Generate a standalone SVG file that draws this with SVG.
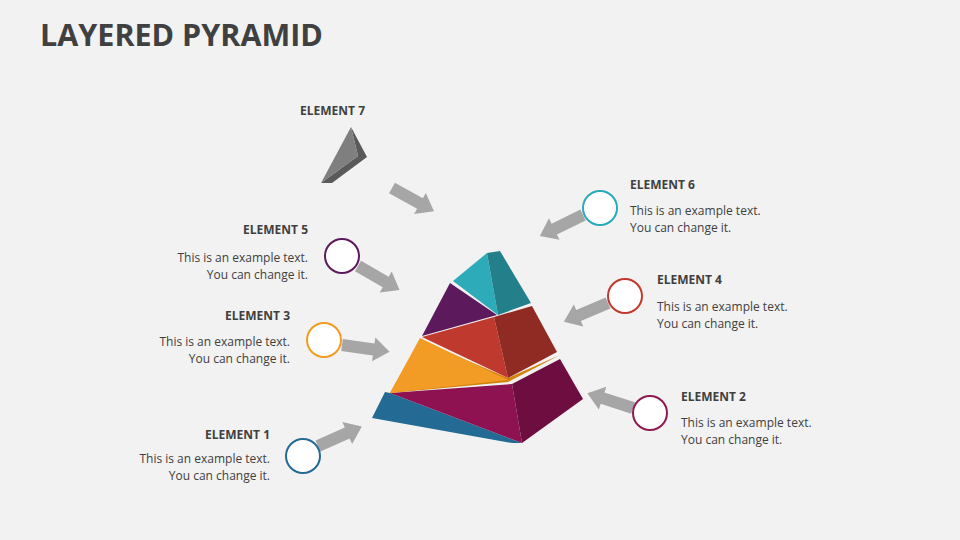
<svg xmlns="http://www.w3.org/2000/svg" width="960" height="540" viewBox="0 0 960 540">
<style>
text{font-family:"Open Sans","Liberation Sans",sans-serif;fill:#404040}
.t{font-size:30.5px;font-weight:bold}
.h{font-size:12px;font-weight:bold}
.b{font-size:12px}
.e{text-anchor:end}
.c{fill:#fff;stroke-width:2}
.a{fill:#a6a6a6}
</style>
<defs><polygon id="ar" points="0,-6 32,-6 32,-12 48,0 32,12 32,6 0,6"/></defs>
<rect width="960" height="540" fill="#f2f2f2"/>
<text class="t" x="40" y="46">LAYERED PYRAMID</text>
<g id="connectors" class="a">
<use href="#ar" transform="translate(392,188) rotate(29)"/>
<use href="#ar" transform="translate(583,215) rotate(154)"/>
<use href="#ar" transform="translate(358,266) rotate(30)"/>
<use href="#ar" transform="translate(608,303) rotate(157)"/>
<use href="#ar" transform="translate(342,345) rotate(8)"/>
<use href="#ar" transform="translate(633,408) rotate(198)"/>
<use href="#ar" transform="translate(318,446) rotate(-24)"/>
</g>
<g id="pyramid">
<polygon points="385,392 372,418 512,443 522,443 390,393" fill="#236a94"/>
<polygon points="390,393 512,384 522,443" fill="#8e1252"/>
<polygon points="512,384 560,359 583,399 522,443" fill="#6e0e40"/>
<polygon points="420,340 390,393 508,382 560,355 508,378" fill="#d4820a"/>
<polygon points="420,338 390,393 508,380" fill="#f39c25"/>
<polygon points="422,337 494,317 508,378" fill="#c0392e"/>
<polygon points="494,317 532,306 557,352 508,378" fill="#8f2b22"/>
<polygon points="450,283 422,336 497,315" fill="#5c1a5c"/>
<polygon points="487,253 453,281 498,315" fill="#2eabb8"/>
<polygon points="487,253 500,251 531,303 498,315" fill="#23808a"/>
</g>
<g id="element7">
<text class="h e" x="365" y="115">ELEMENT 7</text>
<polygon points="351,127 367,157 332,183 321,183 358,156" fill="#5a5a5a"/>
<polygon points="351,127 358,156 321,183" fill="#7f7f7f"/>
</g>
<g id="element6">
<circle class="c" cx="600" cy="208" r="17" stroke="#2aa9b8"/>
<text class="h" x="630" y="189">ELEMENT 6</text>
<text class="b" x="630" y="215">This is an example text.</text>
<text class="b" x="630" y="232">You can change it.</text>
</g>
<g id="element5">
<circle class="c" cx="342" cy="256" r="17" stroke="#5c1a5c"/>
<text class="h e" x="308" y="234">ELEMENT 5</text>
<text class="b e" x="308" y="262">This is an example text.</text>
<text class="b e" x="308" y="279">You can change it.</text>
</g>
<g id="element4">
<circle class="c" cx="625" cy="296" r="17" stroke="#c0392b"/>
<text class="h" x="657" y="284">ELEMENT 4</text>
<text class="b" x="657" y="311">This is an example text.</text>
<text class="b" x="657" y="328">You can change it.</text>
</g>
<g id="element3">
<circle class="c" cx="324" cy="340" r="17" stroke="#f39c1f"/>
<text class="h e" x="290" y="320">ELEMENT 3</text>
<text class="b e" x="290" y="346">This is an example text.</text>
<text class="b e" x="290" y="363">You can change it.</text>
</g>
<g id="element2">
<circle class="c" cx="650" cy="413" r="17" stroke="#8e1a52"/>
<text class="h" x="681" y="401">ELEMENT 2</text>
<text class="b" x="681" y="427">This is an example text.</text>
<text class="b" x="681" y="444">You can change it.</text>
</g>
<g id="element1">
<circle class="c" cx="303" cy="456" r="17" stroke="#236a94"/>
<text class="h e" x="270" y="439">ELEMENT 1</text>
<text class="b e" x="270" y="463">This is an example text.</text>
<text class="b e" x="270" y="480">You can change it.</text>
</g>
</svg>
